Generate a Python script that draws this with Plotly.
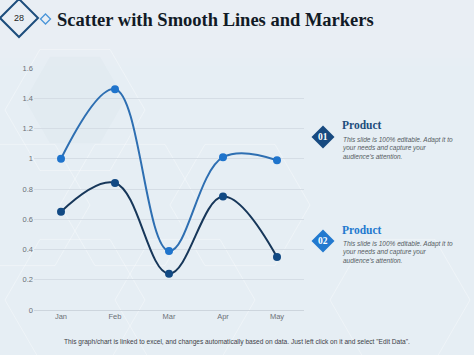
import plotly.graph_objects as go

months = ["Jan", "Feb", "Mar", "Apr", "May"]
product1 = [1.0, 1.46, 0.39, 1.01, 0.99]
product2 = [0.65, 0.84, 0.24, 0.75, 0.35]
y_ticks = [0, 0.2, 0.4, 0.6, 0.8, 1, 1.2, 1.4, 1.6]
y_tick_labels = ["0", "0.2", "0.4", "0.6", "0.8", "1", "1.2", "1.4", "1.6"]

W, H = 474, 355
L, R, T, B = 34, 170, 68, 45
PW, PH = W - L - R, H - T - B

def px(x):
    return (x - L) / PW

def py(y):
    return (H - B - y) / PH

fig = go.Figure()
fig.add_trace(go.Scatter(
    x=months, y=product1, mode="lines+markers", name="Product 01",
    line=dict(color="#2e6fb2", width=2, shape="spline", smoothing=1.1),
    marker=dict(color="#1f74cc", size=8), hoverinfo="skip",
))
fig.add_trace(go.Scatter(
    x=months, y=product2, mode="lines+markers", name="Product 02",
    line=dict(color="#17375a", width=2, shape="spline", smoothing=1.1),
    marker=dict(color="#124a84", size=8), hoverinfo="skip",
))

shapes = []
# soft lighter gradient toward the top
for i in range(8):
    shapes.append(dict(type="rect", xref="paper", yref="paper", x0=px(0), x1=px(W),
                       y0=py(10 + i * 8), y1=py(0),
                       fillcolor="rgba(255,255,255,0.045)", line=dict(width=0), layer="below"))

# faint hexagon background texture
def hexagon(cx, cy, r, fill="rgba(0,0,0,0)", lc="rgba(255,255,255,0.35)"):
    pts = [(cx + r, cy), (cx + r / 2, cy - r * 0.866), (cx - r / 2, cy - r * 0.866),
           (cx - r, cy), (cx - r / 2, cy + r * 0.866), (cx + r / 2, cy + r * 0.866)]
    path = "M " + " L ".join(f"{px(a):.4f},{py(b):.4f}" for a, b in pts) + " Z"
    return dict(type="path", xref="paper", yref="paper", path=path, fillcolor=fill,
                line=dict(color=lc, width=1), layer="below")

shapes.append(hexagon(75, 100, 50, fill="rgba(200,212,225,0.12)", lc="rgba(255,255,255,0)"))
for cx, cy, r in [(75, 110, 70), (130, 205, 70), (20, 205, 70), (240, 205, 70),
                  (75, 300, 70), (185, 300, 70), (400, 300, 70)]:
    shapes.append(hexagon(cx, cy, r))

# diamonds
def diamond(cx, cy, r, line_color, fill, lw):
    path = (f"M {px(cx):.4f},{py(cy - r):.4f} L {px(cx + r):.4f},{py(cy):.4f} "
            f"L {px(cx):.4f},{py(cy + r):.4f} L {px(cx - r):.4f},{py(cy):.4f} Z")
    return dict(type="path", xref="paper", yref="paper", path=path,
                line=dict(color=line_color, width=lw), fillcolor=fill, layer="above")

shapes.append(diamond(19, 18, 19, "#1d4d7c", "rgba(0,0,0,0)", 2))
shapes.append(diamond(45.5, 19, 5, "#4a95d8", "rgba(0,0,0,0)", 1.3))
shapes.append(diamond(323, 137, 11.5, "#174a80", "#174a80", 0))
shapes.append(diamond(323, 241, 11.5, "#2379cf", "#2379cf", 0))

annotations = [
    dict(text="28", x=px(19), y=py(18), xref="paper", yref="paper", showarrow=False,
         font=dict(family="Liberation Sans", size=9, color="#222"), xanchor="center", yanchor="middle"),
    dict(text="<b>Scatter with Smooth Lines and Markers</b>", x=px(55), y=py(20),
         xref="paper", yref="paper", showarrow=False, xanchor="left", yanchor="middle",
         font=dict(family="Liberation Serif", size=18.5, color="#111a26")),
    dict(text="<b>01</b>", x=px(323), y=py(137), xref="paper", yref="paper", showarrow=False,
         font=dict(family="Liberation Serif", size=9.5, color="white"), xanchor="center", yanchor="middle"),
    dict(text="<b>02</b>", x=px(323), y=py(241), xref="paper", yref="paper", showarrow=False,
         font=dict(family="Liberation Serif", size=9.5, color="white"), xanchor="center", yanchor="middle"),
    dict(text="<b>Product</b>", x=px(340), y=py(125), xref="paper", yref="paper", showarrow=False,
         font=dict(family="Liberation Serif", size=11.5, color="#1d4d7c"), xanchor="left", yanchor="middle"),
    dict(text="<b>Product</b>", x=px(340), y=py(230), xref="paper", yref="paper", showarrow=False,
         font=dict(family="Liberation Serif", size=11.5, color="#2379cf"), xanchor="left", yanchor="middle"),
]
desc = "<i>This slide is 100% editable. Adapt it to<br>your needs and capture your<br>audience's attention.</i>"
for ytop in [133.5, 237.5]:
    annotations.append(dict(text=desc, x=px(340), y=py(ytop), xref="paper", yref="paper",
                            showarrow=False, xanchor="left", yanchor="top", align="left",
                            font=dict(family="Liberation Sans", size=6.5, color="#555c63")))
annotations.append(dict(
    text='This graph/chart is linked to excel, and changes automatically based on data. Just left click on it and select "Edit Data".',
    x=px(237), y=py(342), xref="paper", yref="paper", showarrow=False,
    xanchor="center", yanchor="middle",
    font=dict(family="Liberation Sans", size=6.6, color="#3d4248")))

fig.update_layout(
    width=W, height=H,
    margin=dict(l=L, r=R, t=T, b=B),
    paper_bgcolor="#e6eef4",
    plot_bgcolor="rgba(0,0,0,0)",
    showlegend=False,
    hovermode=False,
    dragmode=False,
    shapes=shapes,
    annotations=annotations,
    xaxis=dict(range=[-0.5, 4.5], showgrid=False, zeroline=False, showline=False, fixedrange=True,
               ticks="", tickfont=dict(family="Liberation Sans", size=7.5, color="#6b7077")),
    yaxis=dict(range=[0, 1.6], tickvals=y_ticks, ticktext=y_tick_labels, fixedrange=True,
               showgrid=True, gridcolor="#d5dde5", gridwidth=1, zeroline=True,
               zerolinecolor="#cdd5dd", zerolinewidth=1, showline=False, ticks="",
               tickfont=dict(family="Liberation Sans", size=7.5, color="#6b7077")),
)

fig.write_html("out.html", config={"displayModeBar": False, "staticPlot": True},
               post_script="document.body.style.margin='0';document.body.style.background='#e6eef4';")
